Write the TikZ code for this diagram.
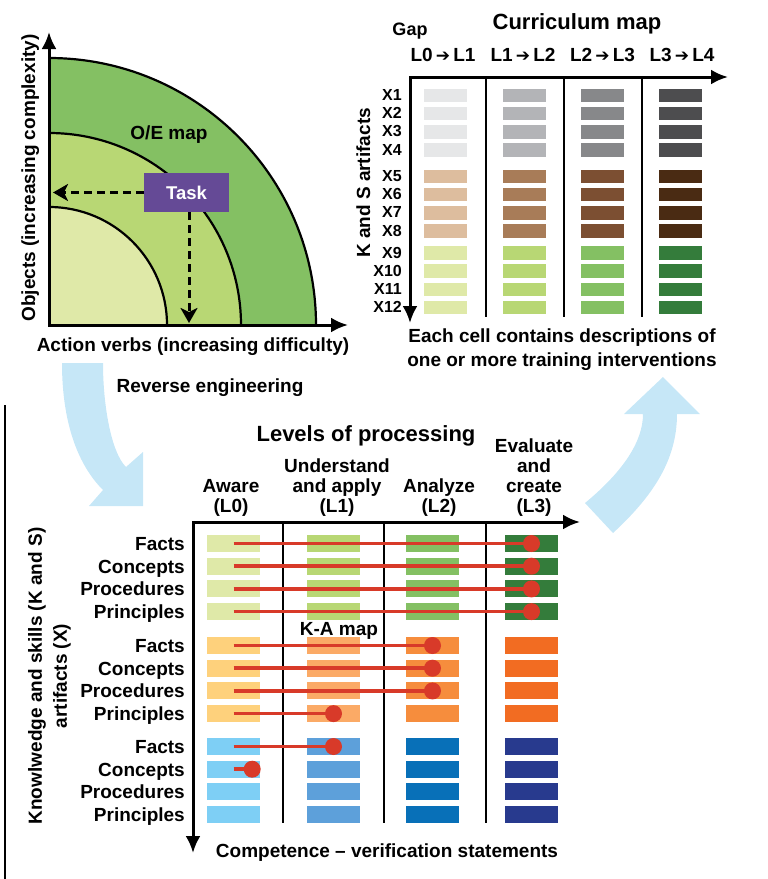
\documentclass[tikz,border=0pt]{standalone}
\usepackage{fontspec}
\setmainfont{Liberation Sans}
\newfontfamily\arrfont{DejaVu Sans}
\usepackage{tikz}
\usetikzlibrary{calc,shapes,arrows.meta}

\definecolor{gyA}{HTML}{E6E7E8}
\definecolor{gyB}{HTML}{B3B4B7}
\definecolor{gyC}{HTML}{87888A}
\definecolor{gyD}{HTML}{4D4D4F}
\definecolor{bnA}{HTML}{DDBD9E}
\definecolor{bnB}{HTML}{A87C58}
\definecolor{bnC}{HTML}{7C4F32}
\definecolor{bnD}{HTML}{4A2B13}
\definecolor{gnA}{HTML}{DFE9A8}
\definecolor{gnB}{HTML}{B8D774}
\definecolor{gnC}{HTML}{84C063}
\definecolor{gnD}{HTML}{347C3B}
\definecolor{orA}{HTML}{FED17C}
\definecolor{orB}{HTML}{FBAA66}
\definecolor{orC}{HTML}{F68D3D}
\definecolor{orD}{HTML}{F26C22}
\definecolor{blA}{HTML}{7ECFF5}
\definecolor{blB}{HTML}{5DA0DA}
\definecolor{blC}{HTML}{0870B8}
\definecolor{blD}{HTML}{283A8E}
\definecolor{kared}{HTML}{D83A29}
\definecolor{tpurple}{HTML}{654A96}
\definecolor{arrblue}{HTML}{C6E7F7}

\begin{document}
\begin{tikzpicture}[x=1pt,y=-1pt,
    txt/.style={font=\fontsize{19}{20}\selectfont\bfseries,inner sep=0pt,align=center},
    ttl/.style={font=\fontsize{22}{24}\selectfont\bfseries,inner sep=0pt},
    xlbl/.style={font=\fontsize{16}{18}\selectfont\bfseries,inner sep=0pt,anchor=base east},
    axes/.style={line width=3pt,{Latex[length=17pt,width=15pt]}-{Latex[length=17pt,width=15pt]}},
    dasharr/.style={line width=3pt,dash pattern=on 8pt off 5pt,-{Stealth[length=15pt,width=17pt,inset=4pt]}},
    sep/.style={line width=2.5pt},
    cmcell/.style={rectangle,inner sep=0pt,minimum width=43pt,minimum height=13.5pt},
    kcell/.style={rectangle,inner sep=0pt,minimum width=53pt,minimum height=17pt},
    ka/.style={line width=3.6pt,draw=kared},
    dot/.style={circle,fill=kared,inner sep=0pt,minimum size=17pt}]
\useasboundingbox (0,0) rectangle (768,879);

% big arrows
\fill[arrblue] (62,363) .. controls (62,423) and (78,465) .. (103,490) -- (89,506) -- (143,506)
    -- (143,452) -- (126,467) .. controls (111,452) and (103,405) .. (103,363) -- cycle;
\fill[arrblue] (585,503) .. controls (625,470) and (643,440) .. (643,414) -- (624,414) -- (663,377)
    -- (700,414) -- (677,414) .. controls (677,460) and (653,496) .. (613,533) -- cycle;

% O/E map
\coordinate (oe) at (49,325);
\coordinate (oey) at (49,32);
\coordinate (oex) at (348,325);
\fill[gnC] (oe) -- ++(267pt,0) arc[start angle=0,end angle=90,radius=267pt] -- cycle;
\fill[gnB] (oe) -- ++(192pt,0) arc[start angle=0,end angle=90,radius=192pt] -- cycle;
\fill[gnA] (oe) -- ++(118pt,0) arc[start angle=0,end angle=90,radius=118pt] -- cycle;
\foreach \r in {118pt,192pt,267pt}
    \draw[line width=2.2pt] (oe) ++(\r,0) arc[start angle=0,end angle=90,radius=\r];
\draw[axes] (oey) -- (oe) -- (oex);
\node[txt,anchor=base] (oemap) at (169,139) {O/E map};
\node[fill=tpurple,minimum width=85pt,minimum height=39pt,inner sep=0pt,text=white,
    font=\fontsize{18.5}{20}\selectfont\bfseries] (task) at (186.5,192.5) {Task};
\coordinate (taskl) at (53,192.5);
\coordinate (taskd) at (189,323);
\draw[dasharr] (task.west) -- (taskl);
\draw[dasharr] (task.south -| taskd) -- (taskd);
\node[txt,rotate=90,anchor=base] (objects) at (35,178) {Objects (increasing complexity)};
\node[txt,anchor=base] (verbs) at (193,351.5) {Action verbs (increasing difficulty)};
\node[txt,anchor=base] (reverse) at (210,392) {Reverse engineering};

% Curriculum map
\coordinate (cm) at (410,77);
\coordinate (cmx) at (728,77);
\coordinate (cmy) at (410,323);
\node[ttl,anchor=base] (cmtitle) at (577,29.5) {Curriculum map};
\node[txt,font=\fontsize{18}{20}\selectfont\bfseries,anchor=base] (gap) at (410,35) {Gap};
\foreach \x/\a/\b in {443/0/1,523/1/2,602.5/2/3,682/3/4}
    \node[txt,anchor=base] (gap\a) at (\x,61.5) {L\a\,{\arrfont\fontsize{17}{18}\selectfont ➔}\,L\b};
\foreach \x in {486,564,642}
    \draw[sep] (\x,77) -- (\x,317);
\foreach \g/\y/\pal in {1/95.5/gy,2/176.5/bn,3/253/gn}
    \foreach \r in {1,...,4} {
        \pgfmathtruncatemacro\n{4*(\g-1)+\r}
        \node[xlbl] (xl\n) at (402,\y+18.2*\r-18.2+5) {X\n};
        \foreach \c/\x/\l in {1/445.5/A,2/524/B,3/602/C,4/680/D}
            \node[cmcell,fill=\pal\l] (cm-\g-\r-\c) at (\x,\y+18.2*\r-18.2) {};
    }
\draw[axes] (cmx) -- (cm) -- (cmy);
\node[txt,rotate=90,anchor=base] (ksart) at (370,183) {K and S artifacts};
\node[txt,font=\fontsize{19}{24}\selectfont\bfseries,anchor=base] (each) at (562,366.5)
    {Each cell contains descriptions of\\one or more training interventions};

% K-A map
\draw[line width=2pt] (5,405) -- (5,879);
\coordinate (ka) at (193,522);
\coordinate (kax) at (580,522);
\coordinate (kay) at (193,853);
\node[ttl,anchor=base] (lop) at (366,441.5) {Levels of processing};
\node[txt,anchor=south] (l0) at (231,517) {Aware\\(L0)};
\node[txt,anchor=south] (l1) at (337,517) {Understand\\and apply\\(L1)};
\node[txt,anchor=south] (l2) at (439,517) {Analyze\\(L2)};
\node[txt,anchor=south] (l3) at (534,517) {Evaluate\\and\\create\\(L3)};
\foreach \x in {283,384,486}
    \draw[sep] (\x,522) -- (\x,823);
\foreach \g/\y/\pal in {1/543.5/gn,2/645.5/or,3/746.5/bl}
    \foreach \r/\t in {1/Facts,2/Concepts,3/Procedures,4/Principles} {
        \node[txt,anchor=base east] (kl-\g-\r) at (185,\y+22.7*\r-22.7+7) {\t};
        \foreach \c/\x/\l in {1/233.5/A,2/333.5/B,3/432.5/C,4/531.5/D}
            \node[kcell,fill=\pal\l] (k-\g-\r-\c) at (\x,\y+22.7*\r-22.7) {};
    }
\draw[axes] (kax) -- (ka) -- (kay);
\foreach \g/\r/\c in {1/1/4,1/2/4,1/3/4,1/4/4,2/1/3,2/2/3,2/3/3,2/4/2,3/1/2}
    \draw[ka] (k-\g-\r-1.center) -- (k-\g-\r-\c.center) node[dot] (d-\g-\r) {};
\draw[ka] (k-3-2-1.center) -- ([xshift=-8pt]k-3-2-1.east) node[dot] (d-3-2) {};
\node[txt,anchor=base] (kamap) at (339,635) {K-A map};
\node[txt,font=\fontsize{19}{25}\selectfont\bfseries,rotate=90] (ksx) at (49.5,676)
    {Knowlwedge and skills (K and S)\\artifacts (X)};
\node[txt,anchor=base] (comp) at (387,857) {Competence -- verification statements};
\end{tikzpicture}
\end{document}
